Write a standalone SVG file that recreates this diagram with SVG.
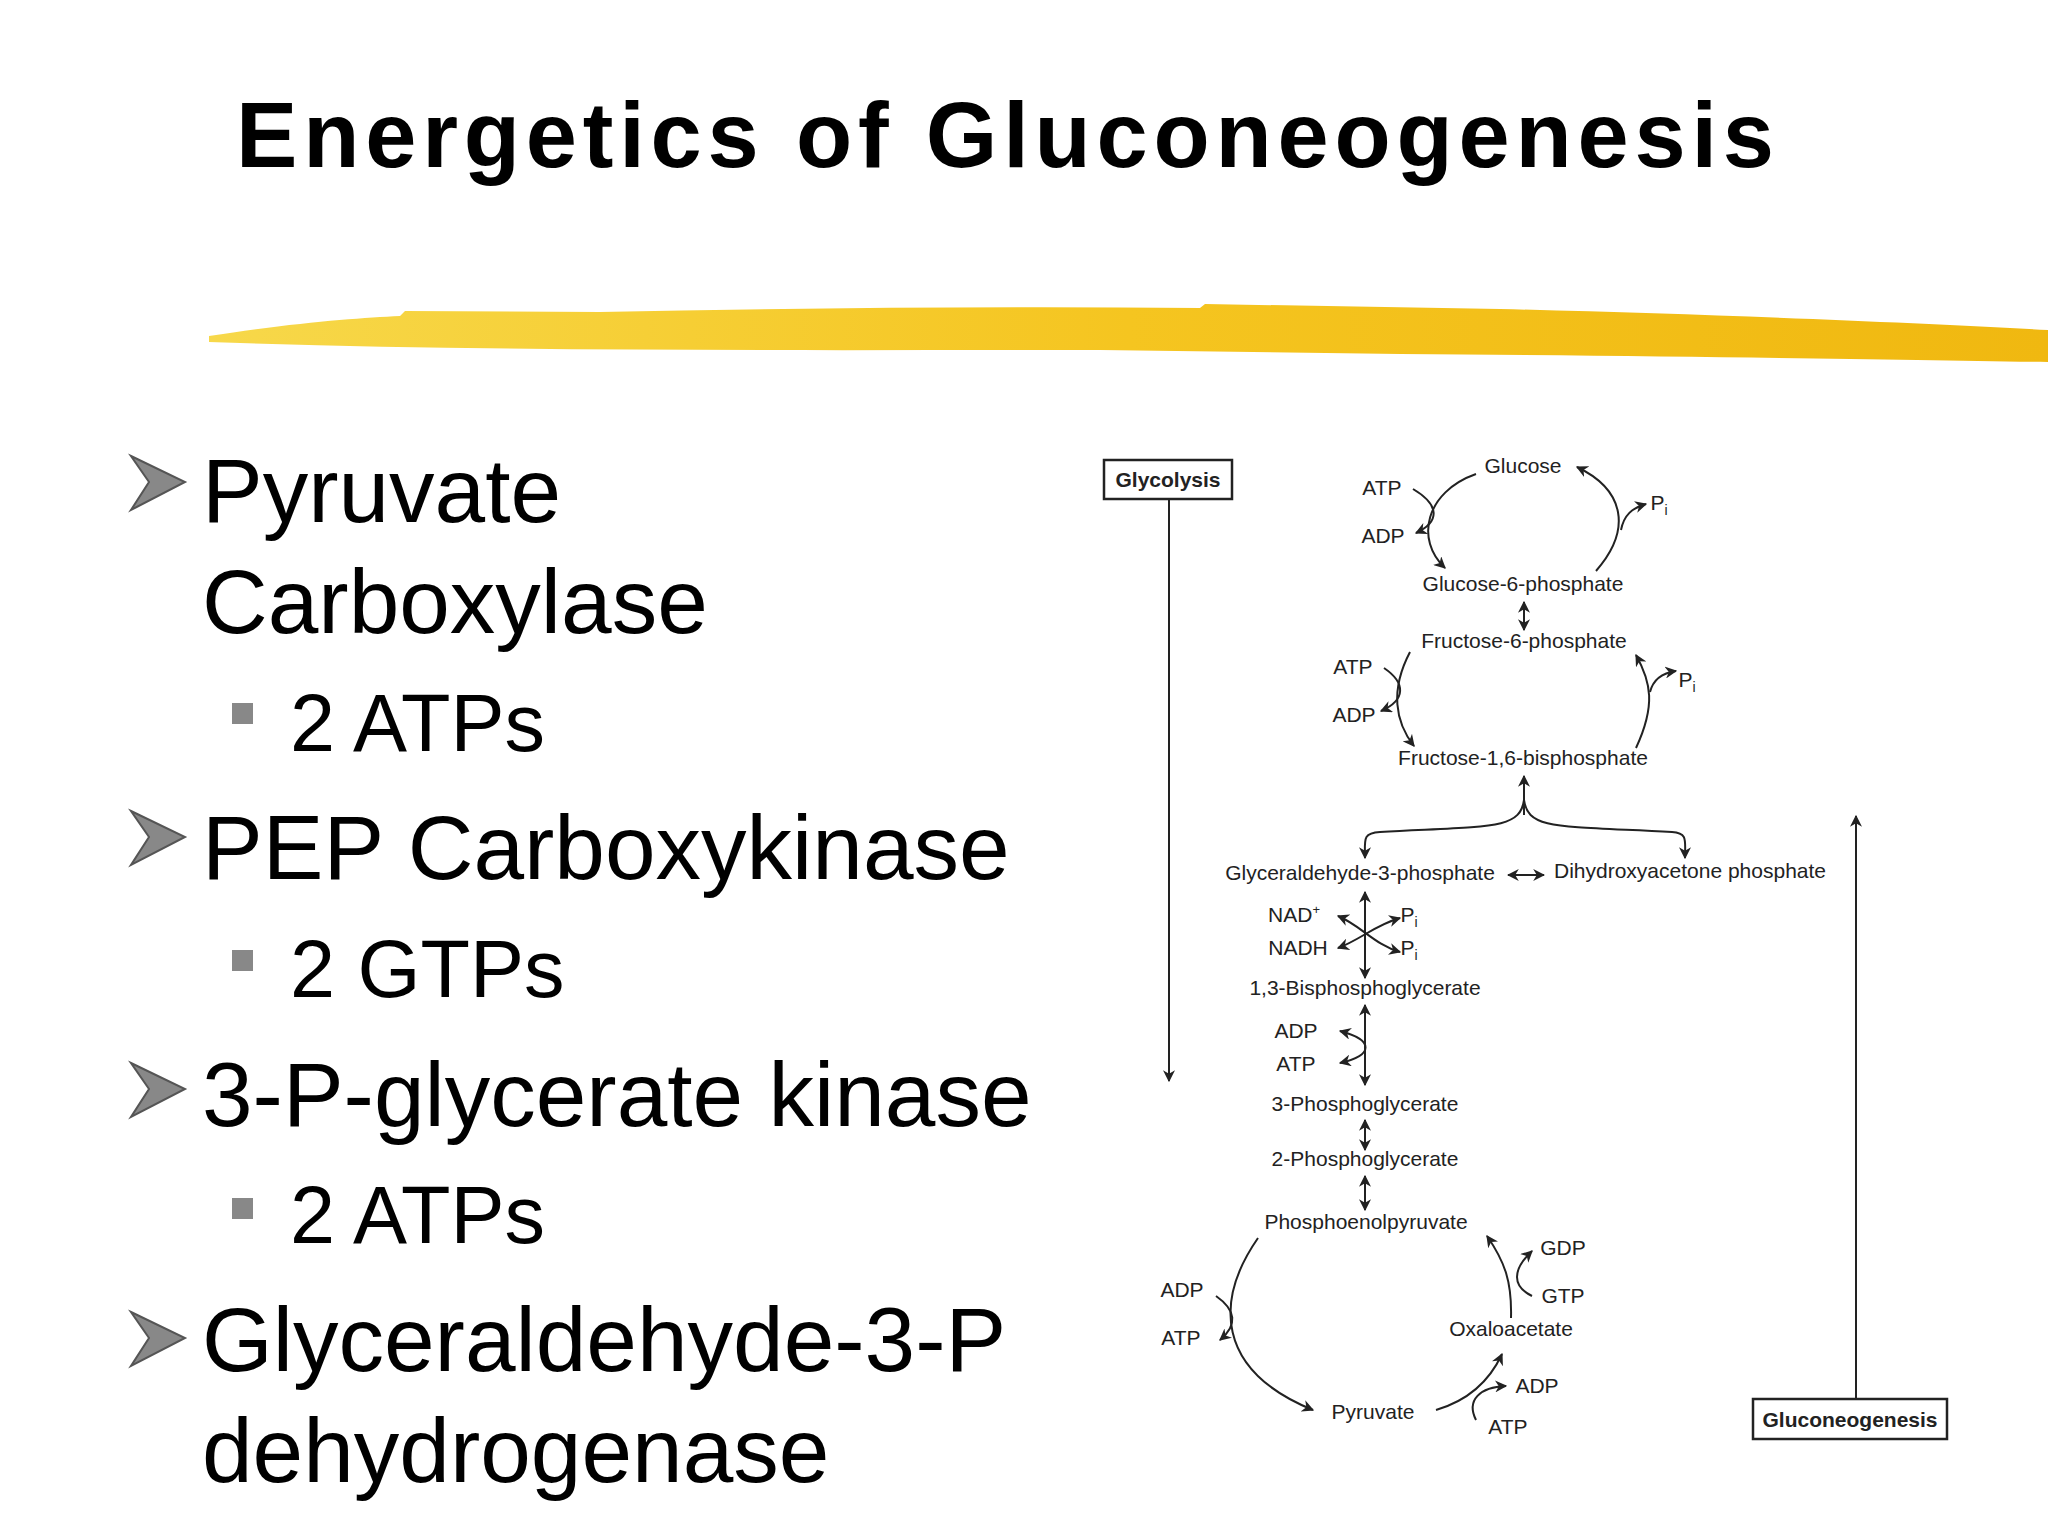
<svg xmlns="http://www.w3.org/2000/svg" width="2048" height="1536" viewBox="0 0 2048 1536">
<style>
.t{font-family:"Liberation Sans",Arial,sans-serif;font-size:91px;fill:#000}
.s{font-family:"Liberation Sans",Arial,sans-serif;font-size:81px;fill:#000}
.d{font-family:"Liberation Sans",Arial,sans-serif;font-size:21px;fill:#222;text-anchor:middle}
.c{fill:none;stroke:#222;stroke-width:2}
.a{marker-end:url(#ah)}
.b{marker-end:url(#ah);marker-start:url(#as)}
</style>
<defs>
<marker id="ah" viewBox="0 0 10 10" refX="9" refY="5" markerWidth="6" markerHeight="6" orient="auto" markerUnits="strokeWidth"><path d="M0,0 L10,5 L0,10 L3,5 z" fill="#222"/></marker>
<marker id="as" viewBox="0 0 10 10" refX="1" refY="5" markerWidth="6" markerHeight="6" orient="auto" markerUnits="strokeWidth"><path d="M10,0 L0,5 L10,10 L7,5 z" fill="#222"/></marker>
<linearGradient id="yg" x1="0" x2="1"><stop offset="0" stop-color="#f7d84a"/><stop offset="0.5" stop-color="#f5c520"/><stop offset="1" stop-color="#f0b810"/></linearGradient>
<polygon id="bul" points="0,0 54,26 0,54 18,26" fill="#888" stroke="#555" stroke-width="2"/>
</defs>
<rect width="2048" height="1536" fill="#fff"/>
<g id="title"><text x="1006" y="167" text-anchor="middle" font-family="Liberation Sans,Arial,sans-serif" font-weight="bold" font-size="92" textLength="1540" letter-spacing="2">Energetics of Gluconeogenesis</text></g>
<g id="stroke"><path d="M209,336 C300,322 360,318 400,316 L405,311 L600,312 C800,308 1000,306 1200,308 L1205,304 L1500,309 C1700,314 1900,322 2048,330 L2048,362 C1900,360 1700,356 1400,354 L1100,350 C800,350 500,352 209,342 z" fill="url(#yg)"/></g>
<g id="bullets">
<use href="#bul" x="131" y="456"/><use href="#bul" x="131" y="811"/><use href="#bul" x="131" y="1063"/><use href="#bul" x="131" y="1312"/>
<rect x="232" y="703" width="21" height="21" fill="#888"/><rect x="232" y="950" width="21" height="21" fill="#888"/><rect x="232" y="1198" width="21" height="21" fill="#888"/>
<text class="t" x="202" y="522">Pyruvate</text>
<text class="t" x="202" y="633">Carboxylase</text>
<text class="s" x="290" y="751">2 ATPs</text>
<text class="t" x="202" y="879">PEP Carboxykinase</text>
<text class="s" x="290" y="997">2 GTPs</text>
<text class="t" x="202" y="1126">3-P-glycerate kinase</text>
<text class="s" x="290" y="1243">2 ATPs</text>
<text class="t" x="202" y="1371">Glyceraldehyde-3-P</text>
<text class="t" x="202" y="1482">dehydrogenase</text>
</g>
<g id="glycolysis"><rect x="1104" y="460" width="128" height="39" fill="#fff" stroke="#222" stroke-width="2.5"/><text class="d" x="1168" y="487" font-weight="bold">Glycolysis</text></g>
<g id="gluconeogenesis"><rect x="1753" y="1399" width="194" height="40" fill="#fff" stroke="#222" stroke-width="2.5"/><text class="d" x="1850" y="1427" font-weight="bold">Gluconeogenesis</text></g>
<g id="labels">
<text class="d" x="1523" y="473">Glucose</text>
<text class="d" x="1382" y="495">ATP</text>
<text class="d" x="1383" y="543">ADP</text>
<text class="d" x="1659" y="510">P<tspan font-size="14" dy="5">i</tspan></text>
<text class="d" x="1523" y="591">Glucose-6-phosphate</text>
<text class="d" x="1524" y="648">Fructose-6-phosphate</text>
<text class="d" x="1353" y="674">ATP</text>
<text class="d" x="1354" y="722">ADP</text>
<text class="d" x="1687" y="687">P<tspan font-size="14" dy="5">i</tspan></text>
<text class="d" x="1523" y="765">Fructose-1,6-bisphosphate</text>
<text class="d" x="1360" y="880">Glyceraldehyde-3-phosphate</text>
<text class="d" x="1690" y="878">Dihydroxyacetone phosphate</text>
<text class="d" x="1294" y="922">NAD<tspan font-size="13" dy="-8">+</tspan></text>
<text class="d" x="1298" y="955">NADH</text>
<text class="d" x="1409" y="922">P<tspan font-size="14" dy="5">i</tspan></text>
<text class="d" x="1409" y="955">P<tspan font-size="14" dy="5">i</tspan></text>
<text class="d" x="1365" y="995">1,3-Bisphosphoglycerate</text>
<text class="d" x="1296" y="1038">ADP</text>
<text class="d" x="1296" y="1071">ATP</text>
<text class="d" x="1365" y="1111">3-Phosphoglycerate</text>
<text class="d" x="1365" y="1166">2-Phosphoglycerate</text>
<text class="d" x="1366" y="1229">Phosphoenolpyruvate</text>
<text class="d" x="1563" y="1255">GDP</text>
<text class="d" x="1563" y="1303">GTP</text>
<text class="d" x="1182" y="1297">ADP</text>
<text class="d" x="1181" y="1345">ATP</text>
<text class="d" x="1511" y="1336">Oxaloacetate</text>
<text class="d" x="1537" y="1393">ADP</text>
<text class="d" x="1373" y="1419">Pyruvate</text>
<text class="d" x="1508" y="1434">ATP</text>
</g>
<g id="connectors">
<path class="c a" d="M1169,499 L1169,1081"/>
<path class="c a" d="M1856,1399 L1856,816"/>
<path class="c a" d="M1476,474 C1425,492 1415,540 1445,568"/>
<path class="c a" d="M1413,489 C1440,505 1440,522 1416,533"/>
<path class="c a" d="M1596,571 C1632,530 1625,490 1577,467"/>
<path class="c a" d="M1621,530 C1624,515 1632,508 1646,504"/>
<path class="c b" d="M1524,602 L1524,630"/>
<path class="c a" d="M1410,652 C1390,690 1395,722 1414,746"/>
<path class="c a" d="M1384,668 C1406,683 1406,700 1381,711"/>
<path class="c a" d="M1636,748 C1656,705 1651,682 1636,655"/>
<path class="c a" d="M1650,692 C1653,680 1662,673 1676,671"/>
<path class="c a" d="M1524,815 L1524,776"/>
<path class="c a" d="M1524,800 C1520,830 1490,826 1380,832 C1362,833 1365,840 1365,858"/>
<path class="c a" d="M1524,800 C1528,830 1558,826 1672,832 C1688,833 1685,840 1685,858"/>
<path class="c b" d="M1508,875 L1544,875"/>
<path class="c b" d="M1365,892 L1365,978"/>
<path class="c b" d="M1338,916 C1360,925 1375,945 1400,952"/>
<path class="c b" d="M1338,948 C1360,940 1375,925 1400,918"/>
<path class="c b" d="M1340,1031 C1374,1040 1374,1055 1340,1063"/>
<path class="c b" d="M1365,1005 L1365,1085"/>
<path class="c b" d="M1365,1120 L1365,1150"/>
<path class="c b" d="M1365,1176 L1365,1210"/>
<path class="c a" d="M1258,1238 C1215,1300 1215,1370 1313,1410"/>
<path class="c a" d="M1216,1296 C1236,1310 1238,1325 1220,1340"/>
<path class="c a" d="M1436,1410 C1470,1400 1490,1380 1502,1354"/>
<path class="c a" d="M1476,1420 C1466,1400 1480,1387 1506,1386"/>
<path class="c a" d="M1511,1318 C1512,1282 1505,1262 1487,1236"/>
<path class="c a" d="M1532,1296 C1512,1286 1512,1270 1532,1251"/>
</g>
</svg>
